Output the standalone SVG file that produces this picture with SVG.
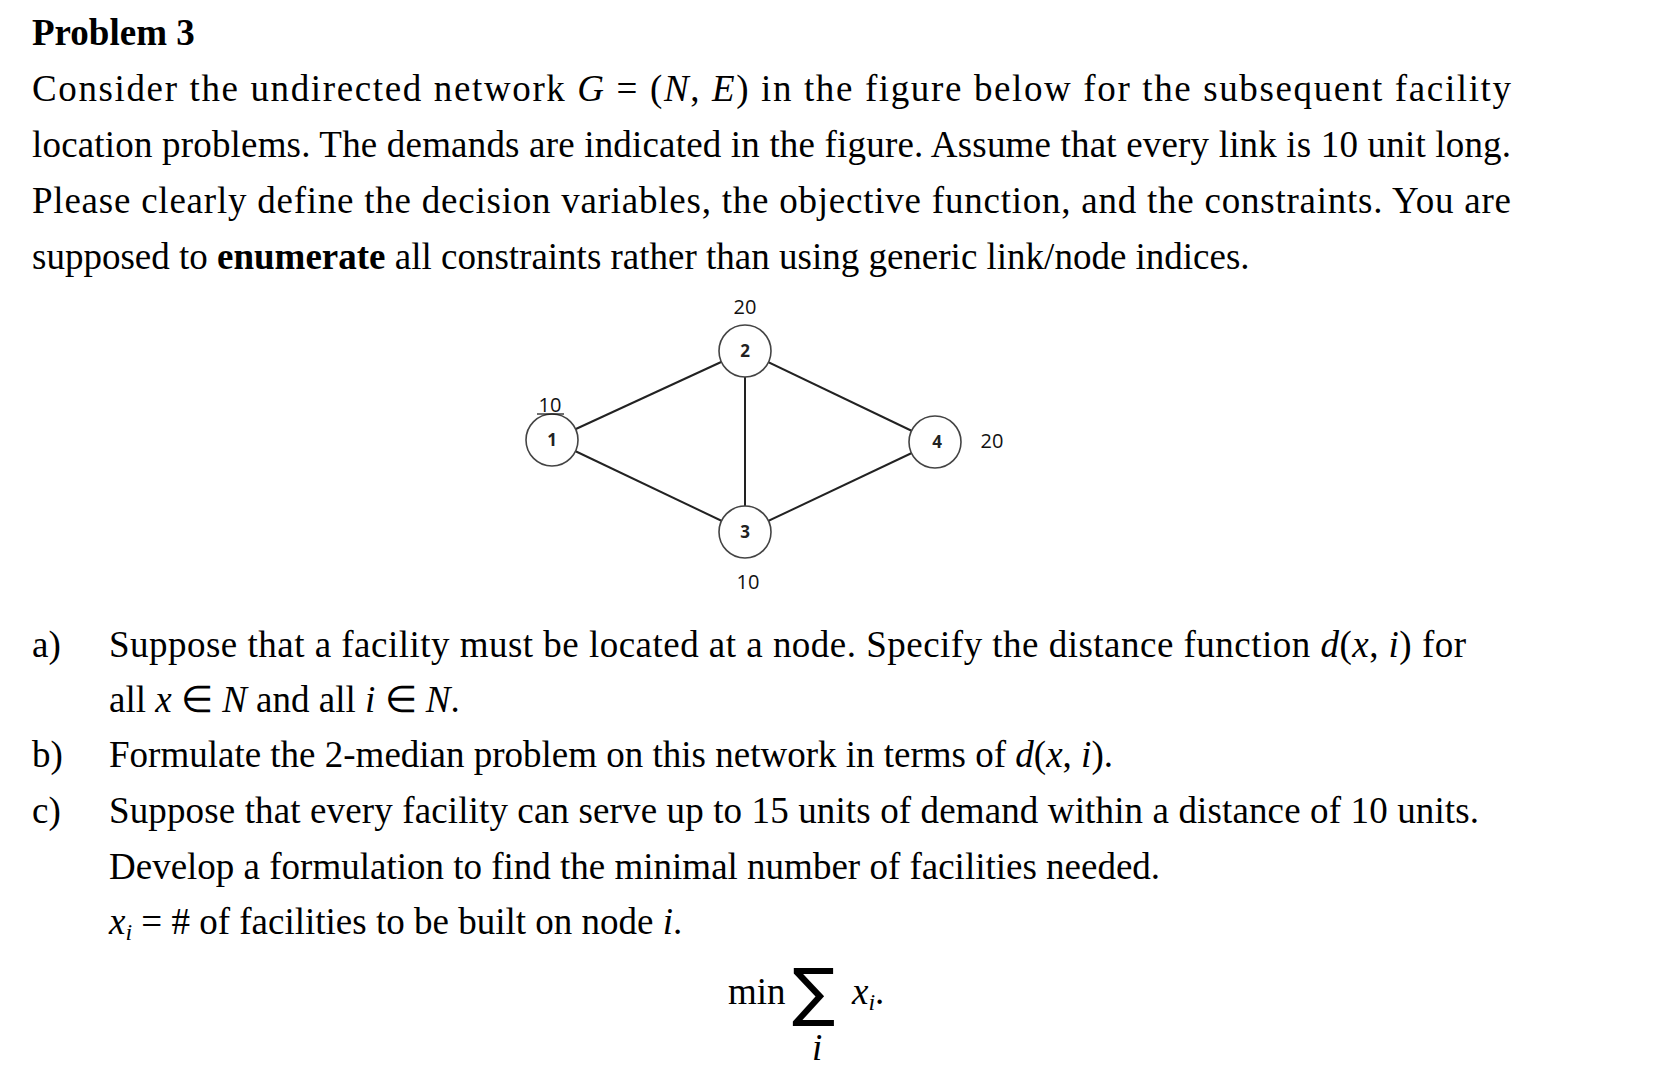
<svg xmlns="http://www.w3.org/2000/svg" width="1662" height="1090" viewBox="0 0 1662 1090">
<style>
.t{font-family:"Liberation Serif",serif;font-size:37px;fill:#000}
.m{font-style:italic}
.n{font-family:"Open Sans","DejaVu Sans",sans-serif;font-size:17px;font-weight:700;text-anchor:middle;fill:#222}
.d{font-family:"Open Sans","DejaVu Sans",sans-serif;font-size:20px;text-anchor:middle;fill:#111}
.e{stroke:#222;stroke-width:2;fill:none}
.c{fill:#fff;stroke:#444;stroke-width:1.6}
</style>
<rect width="1662" height="1090" fill="#fff"/>
<text class="t" x="32" y="45" font-weight="bold">Problem 3</text>
<text class="t" x="32" y="101" textLength="1479" lengthAdjust="spacing">Consider the undirected network  <tspan class="m">G</tspan> = (<tspan class="m">N</tspan>, <tspan class="m">E</tspan>)  in the figure below for the subsequent facility</text>
<text class="t" x="32" y="157" textLength="1479" lengthAdjust="spacing">location problems. The demands are indicated in the figure. Assume that every link is 10 unit long.</text>
<text class="t" x="32" y="213" textLength="1479" lengthAdjust="spacing">Please clearly define the decision variables, the objective function, and the constraints. You are</text>
<text class="t" x="32" y="269">supposed to <tspan font-weight="bold">enumerate</tspan> all constraints rather than using generic link/node indices.</text>
<g id="connectors">
<line class="e" x1="552" y1="440" x2="745" y2="351"/>
<line class="e" x1="552" y1="440" x2="745" y2="532"/>
<line class="e" x1="745" y1="351" x2="745" y2="532"/>
<line class="e" x1="745" y1="351" x2="935" y2="442"/>
<line class="e" x1="745" y1="532" x2="935" y2="442"/>
</g>
<g id="node1"><circle class="c" cx="552" cy="440" r="26"/><text class="n" x="552" y="446">1</text><text class="d" x="550" y="412">10</text><line x1="537" y1="414" x2="564" y2="414" stroke="#111" stroke-width="1.2"/></g>
<g id="node2"><circle class="c" cx="745" cy="351" r="26"/><text class="n" x="745" y="357">2</text><text class="d" x="745" y="314">20</text></g>
<g id="node3"><circle class="c" cx="745" cy="532" r="26"/><text class="n" x="745" y="538">3</text><text class="d" x="748" y="589">10</text></g>
<g id="node4"><circle class="c" cx="935" cy="442" r="26"/><text class="n" x="937" y="448">4</text><text class="d" x="992" y="448">20</text></g>
<text class="t" x="32" y="657">a)</text>
<text class="t" x="109" y="657" textLength="1357" lengthAdjust="spacing">Suppose that a facility must be located at a node. Specify the distance function  <tspan class="m">d</tspan>(<tspan class="m">x</tspan>, <tspan class="m">i</tspan>)  for</text>
<text class="t" x="109" y="712">all  <tspan class="m">x</tspan> ∈ <tspan class="m">N</tspan>  and all  <tspan class="m">i</tspan> ∈ <tspan class="m">N</tspan>.</text>
<text class="t" x="32" y="767">b)</text>
<text class="t" x="109" y="767">Formulate the 2-median problem on this network in terms of  <tspan class="m">d</tspan>(<tspan class="m">x</tspan>, <tspan class="m">i</tspan>).</text>
<text class="t" x="32" y="823">c)</text>
<text class="t" x="109" y="823" textLength="1370" lengthAdjust="spacing">Suppose that every facility can serve up to 15 units of demand within a distance of 10 units.</text>
<text class="t" x="109" y="879">Develop a formulation to find the minimal number of facilities needed.</text>
<text class="t" x="109" y="934"><tspan class="m">x</tspan><tspan class="m" font-size="24" dy="6">i</tspan><tspan dy="-6">   = # of facilities to be built on node  </tspan><tspan class="m">i</tspan>.</text>
<text class="t" x="728" y="1004">min</text>
<text x="792" y="1014" font-family="DejaVu Sans,sans-serif" font-size="64">∑</text>
<text class="t" x="852" y="1004"><tspan class="m">x</tspan><tspan class="m" font-size="24" dy="6">i</tspan><tspan dy="-6">.</tspan></text>
<text class="t m" x="812" y="1060" font-size="28">i</text>
</svg>
